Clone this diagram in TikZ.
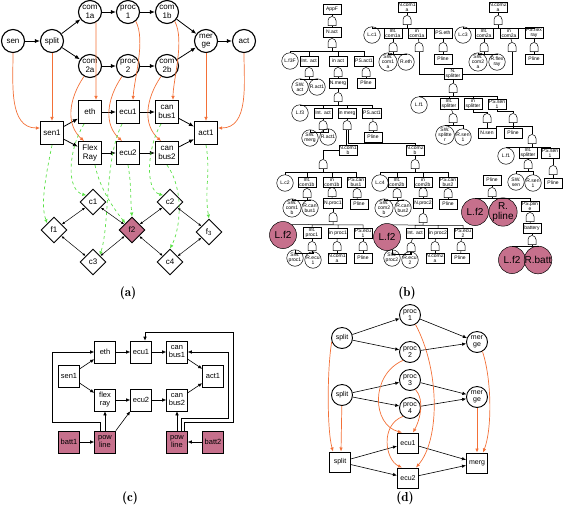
\documentclass[tikz,border=0pt]{standalone}
\usepackage{fontspec}
\usetikzlibrary{arrows.meta,shapes.geometric,shapes.misc}
\newfontfamily\labelfont{Liberation Sans}
\definecolor{mapcol}{RGB}{243,112,55}
\definecolor{loccol}{RGB}{90,225,70}
\definecolor{failcol}{RGB}{198,112,140}
\tikzset{
  acirc/.style={draw,shape=circle,line width=1.1pt,minimum size=23pt,inner sep=0pt,align=center,font=\labelfont\fontsize{8}{8.5}\selectfont},
  abox/.style={draw,shape=rectangle,line width=1.1pt,minimum width=23pt,minimum height=23pt,inner sep=0pt,align=center,font=\labelfont\fontsize{8}{8.5}\selectfont},
  adiam/.style={draw,shape=diamond,line width=0.9pt,minimum size=26pt,inner sep=0pt,font=\labelfont\fontsize{8}{8.5}\selectfont},
  flow/.style={-{Latex[length=5pt,width=4pt]},line width=0.8pt},
  mapto/.style={mapcol,line width=0.7pt,-{Latex[length=4pt,width=3.5pt]}},
  locto/.style={loccol,dashed,line width=0.7pt,-{Latex[length=4pt,width=3.5pt]}},
  link/.style={{Latex[length=3pt,width=2.5pt]}-{Latex[length=3pt,width=2.5pt]},line width=0.5pt},
  cbox/.style={draw,line width=0.6pt,minimum width=21pt,minimum height=22pt,inner sep=0pt,align=center,font=\labelfont\fontsize{7.5}{8}\selectfont},
  cpow/.style={cbox,fill=failcol},
  cflow/.style={-{Latex[length=4pt,width=3.5pt]},line width=0.6pt},
  dcirc/.style={draw,shape=circle,line width=0.9pt,minimum size=21pt,inner sep=0pt,align=center,font=\labelfont\fontsize{7}{7.2}\selectfont},
  dbox/.style={draw,line width=1pt,minimum width=21pt,minimum height=20pt,inner sep=0pt,font=\labelfont\fontsize{7}{7.2}\selectfont},
  ftbox/.style={draw,line width=0.5pt,minimum width=18pt,minimum height=10pt,inner sep=0.6pt,align=center,font=\labelfont\fontsize{5}{5}\selectfont},
  ftev/.style={draw,shape=circle,line width=0.5pt,minimum size=16.5pt,inner sep=0pt,align=center,font=\labelfont\fontsize{5}{5}\selectfont},
  ftfail/.style={draw,shape=circle,fill=failcol,line width=0.5pt,minimum size=27pt,inner sep=0pt,align=center,font=\labelfont\fontsize{10}{10}\selectfont},
  ftgate/.style={draw,shape=rounded rectangle,rounded rectangle west arc=none,rotate=90,minimum width=9pt,minimum height=8pt,inner sep=0pt,line width=0.5pt},
  ftline/.style={line width=0.5pt},
  panellabel/.style={font=\fontseries{b}\fontsize{13}{14}\selectfont}
}
\begin{document}
\begin{tikzpicture}[x=1pt,y=-1pt]
\useasboundingbox (0,0) rectangle (568,515);
\node at (13,41) [acirc](sen){sen};
\node at (52,41) [acirc](split){split};
\node at (90,12) [acirc](com1a){com\\1a};
\node at (128,12) [acirc](proc1){proc\\1};
\node at (167,12) [acirc](com1b){com\\1b};
\node at (206,41) [acirc](merge){mer\\ge};
\node at (244,41) [acirc](act){act};
\node at (90,66) [acirc](com2a){com\\2a};
\node at (128,66) [acirc](proc2){proc\\2};
\node at (167,66) [acirc](com2b){com\\2b};
\node at (90,112) [abox](eth){eth};
\node at (128,112) [abox](ecu1){ecu1};
\node at (167,112) [abox](canbus1){can\\bus1};
\node at (52,133) [abox](sen1){sen1};
\node at (206,133) [abox](act1){act1};
\node at (90,153) [abox](flexray){Flex\\Ray};
\node at (128,153) [abox](ecu2){ecu2};
\node at (167,153) [abox](canbus2){can\\bus2};
\node at (93,202) [adiam](c1){c1};
\node at (54,230) [adiam](f1){f1};
\node at (132,230) [adiam,fill=failcol](f2){f2};
\node at (93,262) [adiam](c3){c3};
\node at (170,202) [adiam](c2){c2};
\node at (209,232) [adiam](f3){f\textsubscript{3}};
\node at (170,262) [adiam](c4){c4};
\draw[flow] (sen) -- (split);
\draw[flow] (split) -- (com1a);
\draw[flow] (split) -- (com2a);
\draw[flow] (com1a) -- (proc1);
\draw[flow] (proc1) -- (com1b);
\draw[flow] (com1b) -- (merge);
\draw[flow] (com2a) -- (proc2);
\draw[flow] (proc2) -- (com2b);
\draw[flow] (com2b) -- (merge);
\draw[flow] (merge) -- (act);
\draw[flow] (sen1) -- (eth);
\draw[flow] (sen1) -- (flexray);
\draw[flow] (eth) -- (ecu1);
\draw[flow] (ecu1) -- (canbus1);
\draw[flow] (canbus1) -- (act1);
\draw[flow] (flexray) -- (ecu2);
\draw[flow] (ecu2) -- (canbus2);
\draw[flow] (canbus2) -- (act1);
\draw[mapto] (sen.south) to[out=-90,in=180] ([yshift=5pt]sen1.west);
\draw[mapto] (split) -- (sen1);
\draw[mapto] (com1a.-60) to[out=-90,in=90] ([xshift=6pt]eth.north);
\draw[mapto] (proc1.-50) .. controls (146,40) and (134,80) .. ([xshift=5pt]ecu1.north);
\draw[mapto] (com1b.-50) .. controls (185,40) and (173,80) .. ([xshift=6pt]canbus1.north);
\draw[mapto] (merge) -- (act1);
\draw[mapto] (act.south) to[out=-90,in=0] ([yshift=5pt]act1.east);
\draw[mapto] (com2a.-120) .. controls (68,100) and (66,125) .. ([xshift=-6pt]flexray.north);
\draw[mapto] (proc2.-120) .. controls (106,100) and (104,125) .. ([xshift=-6pt]ecu2.north);
\draw[mapto] (com2b.-120) .. controls (145,100) and (143,125) .. ([xshift=-6pt]canbus2.north);
\draw[locto] (sen1.south) .. controls (46,175) and (40,205) .. (f1.north west);
\draw[locto] ([xshift=-6pt]eth.south) .. controls (68,150) and (66,190) .. (c1.north west);
\draw[locto] ([xshift=-6pt]ecu1.south) .. controls (104,160) and (110,225) .. (c3.north east);
\draw[locto] ([xshift=5pt]flexray.south) .. controls (100,190) and (115,210) .. (f2.north west);
\draw[locto] (ecu2.south) to[out=-80,in=95] (f2.north);
\draw[locto] ([xshift=-6pt]canbus1.south) .. controls (148,145) and (144,190) .. (c2.north west);
\draw[locto] (canbus2.south) .. controls (185,190) and (180,230) .. (c4.north);
\draw[locto] (act1.south) to[out=-80,in=100] (f3.north);
\draw[link] (f1) -- (c1);
\draw[link] (f1) -- (c3);
\draw[link] (c1) -- (f2);
\draw[link] (c3) -- (f2);
\draw[link] (f2) -- (c2);
\draw[link] (f2) -- (c4);
\draw[link] (c2) -- (f3);
\draw[link] (c4) -- (f3);
\node at (128,293) [panellabel](capa){(a)};
\node at (332,9) [ftbox](appf){AppF};
\node at (332,21) [ftgate](gappf){};
\node at (332,32) [ftbox](nact){N.act};
\node at (332,43) [ftgate](gnact){};
\node at (290,61) [ftev](lf3f){L.f3F};
\node at (309,61) [ftbox](intact){Int. act};
\node at (338,61) [ftbox](inact){in act};
\node at (364,61) [ftbox](psact){PS.act1};
\node at (309,72) [ftgate](gintact){};
\node at (300,87) [ftev](swact){SW.\\act};
\node at (317,87) [ftev](ract){R.act1};
\node at (338,72) [ftgate](ginact){};
\node at (338,83) [ftbox](nmerg){N.merg};
\node at (366,72) [ftgate](gpsact){};
\node at (366,83) [ftbox](plineA){Pline};
\node at (338,97) [ftgate](gnmerg){};
\node at (300,113) [ftev](lf3){L.f3};
\node at (323,113) [ftbox](intactb){Int. act};
\node at (347,113) [ftbox](inmerg){in merg};
\node at (372,113) [ftbox](psactb){PS.act1};
\node at (323,125) [ftgate](gintactb){};
\node at (310,138) [ftev](swmerg){SW.\\merg};
\node at (328,137) [ftev](ractb){R.act1};
\node at (347,125) [ftgate](ginmerg){};
\node at (373,126) [ftgate](gpsactb){};
\node at (373,137) [ftbox](plineB){Pline};
\node at (348,150) [ftbox](ncom1b){N.com1\\b};
\node at (323,164) [ftgate](gncom1b){};
\node at (285,183) [ftev](lc2){L.c2};
\node at (307,182) [ftbox](intcom1b){Int.\\com1b};
\node at (332,182) [ftbox](incom1b){in\\com1b};
\node at (356,182) [ftbox](pscan1){PS.can\\bus1};
\node at (307,193) [ftgate](gintcom1b){};
\node at (292,208) [ftev](swcom1b){SW.\\com1\\b};
\node at (310,208) [ftev](rcan1){R.can\\bus1};
\node at (332,192) [ftgate](gincom1b){};
\node at (333,203) [ftbox](nproc1){N.proc1};
\node at (357,193) [ftgate](gpscan1){};
\node at (359,204) [ftbox](plineC){Pline};
\node at (333,217) [ftgate](gnproc1){};
\node at (283,235) [ftfail](lf2a){L.f2};
\node at (312,233) [ftbox](intproc1){Int.\\proc1};
\node at (338,233) [ftbox](inproc1){in proc1};
\node at (363,233) [ftbox](psecu1){PS.ecu\\1};
\node at (312,246) [ftgate](gintproc1){};
\node at (295,258) [ftev](swproc1){SW.\\proc1};
\node at (313,260) [ftev](recu1){R.ecu\\1};
\node at (337,246) [ftgate](ginproc1){};
\node at (337,258) [ftbox](lkcom1a){N.com1\\a};
\node at (363,246) [ftgate](gpsecu1){};
\node at (363,258) [ftbox](plineD){Pline};
\node at (415,150) [ftbox](ncom2b){N.com2\\b};
\node at (415,164) [ftgate](gncom2b){};
\node at (380,183) [ftev](lc4){L.c4};
\node at (397,182) [ftbox](intcom2b){Int.\\com2b};
\node at (423,182) [ftbox](incom2b){in\\com2b};
\node at (448,182) [ftbox](pscan2){PS.can\\bus2};
\node at (397,193) [ftgate](gintcom2b){};
\node at (384,208) [ftev](swcom2b){SW.\\com2\\b};
\node at (403,208) [ftev](rcan2){R.can\\bus2};
\node at (423,192) [ftgate](gincom2b){};
\node at (423,203) [ftbox](nproc2){N.proc2};
\node at (448,193) [ftgate](gpscan2){};
\node at (448,204) [ftbox](plineE){Pline};
\node at (423,218) [ftgate](gnproc2){};
\node at (387,237) [ftfail](lf2b){L.f2};
\node at (415,233) [ftbox](intactc){Int. act};
\node at (438,233) [ftbox](inproc2){in proc2};
\node at (463,233) [ftbox](psecu2){PS.ecu\\2};
\node at (411,247) [ftgate](gintactc){};
\node at (392,258) [ftev](swproc2){SW.\\proc2};
\node at (410,260) [ftev](recu2){R.ecu\\2};
\node at (435,246) [ftgate](ginproc2){};
\node at (435,258) [ftbox](lkcom2a){N.com2\\a};
\node at (461,246) [ftgate](gpsecu2){};
\node at (460,258) [ftbox](plineF){Pline};
\node at (407,7) [ftbox](ncom1a){N.com1\\a};
\node at (407,20) [ftgate](gncom1a){};
\node at (372,35) [ftev](lc1){L.c1};
\node at (393,33) [ftbox](intcom1a){Int.\\com1a};
\node at (417,33) [ftbox](incom1a){in\\com1a};
\node at (443,33) [ftbox](pseth){PS.eth};
\node at (393,47) [ftgate](gintcom1a){};
\node at (388,62) [ftev](swcom1a){SW.\\com1\\a};
\node at (406,62) [ftev](reth){R.eth};
\node at (419,47) [ftgate](gincom1a){};
\node at (443,47) [ftgate](gpseth){};
\node at (443,59) [ftbox](plineG){Pline};
\node at (498,7) [ftbox](ncom2a){N.com2\\a};
\node at (498,20) [ftgate](gncom2a){};
\node at (463,35) [ftev](lc3){L.c3};
\node at (484,33) [ftbox](intcom2a){Int.\\com2a};
\node at (509,33) [ftbox](incom2a){in\\com2a};
\node at (534,33) [ftbox](psflex){PS.flex\\ray};
\node at (484,47) [ftgate](gintcom2a){};
\node at (478,62) [ftev](swcom2a){SW.\\com2\\a};
\node at (497,62) [ftev](rflex){R.flex\\ray};
\node at (512,47) [ftgate](gincom2a){};
\node at (534,47) [ftgate](gpsflex){};
\node at (534,59) [ftbox](plineH){Pline};
\node at (453,74) [ftbox](nsplit){N.\\splitter};
\node at (453,88) [ftgate](gnsplit){};
\node at (419,105) [ftev](lf1){L.f1};
\node at (449,104) [ftbox](intsplit){Int.\\splitter};
\node at (473,104) [ftbox](insplit){in\\splitter};
\node at (497,104) [ftbox](pssen){PS.sen\\1};
\node at (453,118) [ftgate](gintsplit){};
\node at (445,135) [ftev](swsplit){SW.\\splitte\\r};
\node at (463,137) [ftev](rsen){R.sen\\1};
\node at (487,118) [ftgate](ginsplit){};
\node at (487,133) [ftbox](nsen){N.sen};
\node at (513,118) [ftgate](gpssen){};
\node at (513,133) [ftbox](plineI){Pline};
\node at (532,139) [ftgate](gnsen){};
\node at (506,156) [ftev](lf1b){L.f1};
\node at (528,153) [ftbox](intsplitb){Int.\\splitter};
\node at (550,153) [ftbox](pssenb){PS.sen\\1};
\node at (528,164) [ftgate](gintsplitb){};
\node at (516,182) [ftev](swsen){SW.\\sen};
\node at (533,183) [ftev](rsenb){R.sen\\1};
\node at (553,170) [ftgate](gpssenb){};
\node at (553,183) [ftbox](plineJ){Pline};
\node at (492,180) [ftbox](plineK){Pline};
\node at (492,192) [ftgate](gplineK){};
\node at (475,212) [ftfail](lf2c){L.f2};
\node at (503,212) [ftfail](rpline){R.\\pline};
\node at (530,206) [ftbox](pspline){PS.plin\\e};
\node at (530,217) [ftgate](gpspline){};
\node at (532,228) [ftbox](battery){battery};
\node at (532,240) [ftgate](gbattery){};
\node at (512,260) [ftfail](lf2d){L.f2};
\node at (538,260) [ftfail](rbatt){R.batt};
\draw[ftline] (appf) -- (gappf.east);
\draw[ftline] (gappf.west) -- (nact);
\draw[ftline] (nact) -- (gnact.east);
\draw[ftline] (gnact.west) -- ++(0,3) -| (lf3f) (gnact.west) -- ++(0,3) -| (intact) (gnact.west) -- ++(0,3) -| (inact) (gnact.west) -- ++(0,3) -| (psact);
\draw[ftline] (intact) -- (gintact.east);
\draw[ftline] (gintact.west) -- ++(0,2) -| (swact) (gintact.west) -- ++(0,2) -| (ract);
\draw[ftline] (inact) -- (ginact.east);
\draw[ftline] (ginact.west) -- (nmerg);
\draw[ftline] (psact) -- (gpsact.east);
\draw[ftline] (gpsact.west) -- (plineA);
\draw[ftline] (nmerg) -- (gnmerg.east);
\draw[ftline] (gnmerg.west) -- ++(0,3) -| (lf3) (gnmerg.west) -- ++(0,3) -| (intactb) (gnmerg.west) -- ++(0,3) -| (inmerg) (gnmerg.west) -- ++(0,3) -| (psactb);
\draw[ftline] (intactb) -- (gintactb.east);
\draw[ftline] (gintactb.west) -- ++(0,2) -| (swmerg) (gintactb.west) -- ++(0,2) -| (ractb);
\draw[ftline] (inmerg) -- (ginmerg.east);
\draw[ftline] ([xshift=-1.2pt]ginmerg.west) -- ([xshift=-2.2pt]ncom1b.north);
\draw[ftline] ([xshift=1.2pt]ginmerg.west) -- ++(0,13) -| (ncom2b);
\draw[ftline] (psactb) -- (gpsactb.east);
\draw[ftline] (gpsactb.west) -- (plineB);
\draw[ftline] (ncom1b.west) -| (gncom1b.east);
\draw[ftline] (gncom1b.west) -- ++(0,3) -| (lc2) (gncom1b.west) -- ++(0,3) -| (intcom1b) (gncom1b.west) -- ++(0,3) -| (incom1b) (gncom1b.west) -- ++(0,3) -| (pscan1);
\draw[ftline] (intcom1b) -- (gintcom1b.east);
\draw[ftline] (gintcom1b.west) -- ++(0,2) -| (swcom1b) (gintcom1b.west) -- ++(0,2) -| (rcan1);
\draw[ftline] (incom1b) -- (gincom1b.east);
\draw[ftline] (gincom1b.west) -- (nproc1);
\draw[ftline] (pscan1) -- (gpscan1.east);
\draw[ftline] (gpscan1.west) -- (plineC);
\draw[ftline] (nproc1) -- (gnproc1.east);
\draw[ftline] (gnproc1.west) -- ++(0,3) -- (lf2a.51) (gnproc1.west) -- ++(0,3) -| (intproc1) (gnproc1.west) -- ++(0,3) -| (inproc1) (gnproc1.west) -- ++(0,3) -| (psecu1);
\draw[ftline] (intproc1) -- (gintproc1.east);
\draw[ftline] (gintproc1.west) -- ++(0,2) -| (swproc1) (gintproc1.west) -- ++(0,2) -| (recu1);
\draw[ftline] (inproc1) -- (ginproc1.east);
\draw[ftline] (ginproc1.west) -- (lkcom1a);
\draw[ftline] (psecu1) -- (gpsecu1.east);
\draw[ftline] (gpsecu1.west) -- (plineD);
\draw[ftline] (ncom2b) -- (gncom2b.east);
\draw[ftline] (gncom2b.west) -- ++(0,3) -| (lc4) (gncom2b.west) -- ++(0,3) -| (intcom2b) (gncom2b.west) -- ++(0,3) -| (incom2b) (gncom2b.west) -- ++(0,3) -| (pscan2);
\draw[ftline] (intcom2b) -- (gintcom2b.east);
\draw[ftline] (gintcom2b.west) -- ++(0,2) -| (swcom2b) (gintcom2b.west) -- ++(0,2) -| (rcan2);
\draw[ftline] (incom2b) -- (gincom2b.east);
\draw[ftline] (gincom2b.west) -- (nproc2);
\draw[ftline] (pscan2) -- (gpscan2.east);
\draw[ftline] (gpscan2.west) -- (plineE);
\draw[ftline] (nproc2) -- (gnproc2.east);
\draw[ftline] (gnproc2.west) -- ++(0,2.5) -- (lf2b.63) (gnproc2.west) -- ++(0,2.5) -| (intactc) (gnproc2.west) -- ++(0,2.5) -| (inproc2) (gnproc2.west) -- ++(0,2.5) -| (psecu2);
\draw[ftline] (intactc) -- (gintactc.east);
\draw[ftline] (gintactc.west) -- ++(0,2) -| (swproc2) (gintactc.west) -- ++(0,2) -| (recu2);
\draw[ftline] (inproc2) -- (ginproc2.east);
\draw[ftline] (ginproc2.west) -- (lkcom2a);
\draw[ftline] (psecu2) -- (gpsecu2.east);
\draw[ftline] (gpsecu2.west) -- (plineF);
\draw[ftline] (ncom1a) -- (gncom1a.east);
\draw[ftline] (gncom1a.west) -- ++(0,3) -| (lc1) (gncom1a.west) -- ++(0,3) -| (intcom1a) (gncom1a.west) -- ++(0,3) -| (incom1a) (gncom1a.west) -- ++(0,3) -| (pseth);
\draw[ftline] (intcom1a) -- (gintcom1a.east);
\draw[ftline] (gintcom1a.west) -- ++(0,2) -| (swcom1a) (gintcom1a.west) -- ++(0,2) -| (reth);
\draw[ftline] (incom1a) -- (gincom1a.east);
\draw[ftline] (gincom1a.west) |- (nsplit.west);
\draw[ftline] (pseth) -- (gpseth.east);
\draw[ftline] (gpseth.west) -- (plineG);
\draw[ftline] (ncom2a) -- (gncom2a.east);
\draw[ftline] (gncom2a.west) -- ++(0,3) -| (lc3) (gncom2a.west) -- ++(0,3) -| (intcom2a) (gncom2a.west) -- ++(0,3) -| (incom2a) (gncom2a.west) -- ++(0,3) -| (psflex);
\draw[ftline] (intcom2a) -- (gintcom2a.east);
\draw[ftline] (gintcom2a.west) -- ++(0,2) -| (swcom2a) (gintcom2a.west) -- ++(0,2) -| (rflex);
\draw[ftline] (incom2a) -- (gincom2a.east);
\draw[ftline] (gincom2a.west) |- (nsplit.east);
\draw[ftline] (psflex) -- (gpsflex.east);
\draw[ftline] (gpsflex.west) -- (plineH);
\draw[ftline] (nsplit) -- (gnsplit.east);
\draw[ftline] (gnsplit.west) -- ++(0,3) -| (lf1) (gnsplit.west) -- ++(0,3) -| (intsplit) (gnsplit.west) -- ++(0,3) -| (insplit) (gnsplit.west) -- ++(0,3) -| (pssen);
\draw[ftline] (intsplit) -- (gintsplit.east);
\draw[ftline] (gintsplit.west) -- ++(0,2) -| (swsplit) (gintsplit.west) -- ++(0,2) -| (rsen);
\draw[ftline] (insplit.south) -- ++(0,3) -| (ginsplit.east);
\draw[ftline] (ginsplit.west) -- (nsen);
\draw[ftline] (pssen.south) -- ++(0,1.5) -| (gpssen.east);
\draw[ftline] (gpssen.west) -- (plineI);
\draw[ftline] (nsen.north east) -- ++(0,-2) -| (gnsen.east);
\draw[ftline] (gnsen.west) -- ++(0,3) -| (lf1b) (gnsen.west) -- ++(0,3) -| (intsplitb) (gnsen.west) -- ++(0,3) -| (pssenb);
\draw[ftline] (intsplitb) -- (gintsplitb.east);
\draw[ftline] (gintsplitb.west) -- ++(0,2) -| (swsen) (gintsplitb.west) -- ++(0,2) -| (rsenb);
\draw[ftline] (pssenb.south) -| (gpssenb.east);
\draw[ftline] (gpssenb.west) -- (plineJ);
\draw[ftline] (plineK) -- (gplineK.east);
\draw[ftline] (gplineK.west) -- ++(0,1.5) -| (lf2c) (gplineK.west) -- ++(0,1.5) -| (rpline) (gplineK.west) -- ++(0,1.5) -| (pspline);
\draw[ftline] (pspline) -- (gpspline.east);
\draw[ftline] (gpspline.west) -- (battery);
\draw[ftline] (battery) -- (gbattery.east);
\draw[ftline] (gbattery.west) -- ++(0,1.5) -| (lf2d) (gbattery.west) -- ++(0,1.5) -| (rbatt);
\node at (407,293) [panellabel](capb){(b)};
\node at (105,352) [cbox](ceth){eth};
\node at (141,352) [cbox](cecu1){ecu1};
\node at (177,352) [cbox](ccan1){can\\bus1};
\node at (69,376) [cbox](csen1){sen1};
\node at (213,376) [cbox](cact1){act1};
\node at (105,400) [cbox](cflex){flex\\ray};
\node at (141,400) [cbox](cecu2){ecu2};
\node at (177,400) [cbox](ccan2){can\\bus2};
\node at (69,442) [cpow](cbatt1){batt1};
\node at (105,442) [cpow](cpow1){pow\\line};
\node at (177,442) [cpow](cpow2){pow\\line};
\node at (213,442) [cpow](cbatt2){batt2};
\draw[cflow] (csen1) -- (ceth);
\draw[cflow] (csen1) -- (cflex);
\draw[cflow] (ceth) -- (cecu1);
\draw[cflow] (cecu1) -- (ccan1);
\draw[cflow] (ccan1) -- (cact1);
\draw[cflow] (cflex) -- (cecu2);
\draw[cflow] (cecu2) -- (ccan2);
\draw[cflow] (ccan2) -- (cact1);
\draw[cflow] (cbatt1) -- (cpow1);
\draw[cflow] (cbatt2) -- (cpow2);
\draw[cflow] (cpow1) -- (cflex);
\draw[cflow] (cpow1.north east) -- (cecu2.south west);
\draw[cflow] ([xshift=-5pt]cpow1.north) |- (52,422) |- (ceth.west);
\draw[cflow] (cpow2) -- (ccan2);
\draw[cflow] ([xshift=4pt]cpow2.north) |- (228,418) |- (ccan1.east);
\draw[cflow] ([xshift=7.5pt]cpow2.north) |- (233,422) |- (145,332) -- ([xshift=4pt]cecu1.north);
\node at (130,498) [panellabel](capc){(c)};
\node at (410,315) [dcirc](dproc1){proc\\1};
\node at (342,338) [dcirc](dsplit1){split};
\node at (410,352) [dcirc](dproc2){proc\\2};
\node at (477,342) [dcirc](dmerge1){mer\\ge};
\node at (410,380) [dcirc](dproc3){proc\\3};
\node at (342,395) [dcirc](dsplit2){split};
\node at (410,408) [dcirc](dproc4){proc\\4};
\node at (477,397) [dcirc](dmerge2){mer\\ge};
\node at (408,443) [dbox](decu1){ecu1};
\node at (340,462) [dbox](dsplit){split};
\node at (477,463) [dbox](dmerg){merg};
\node at (408,478) [dbox](decu2){ecu2};
\draw[cflow] (dsplit1) -- (dproc1);
\draw[cflow] (dsplit1) -- (dproc2);
\draw[cflow] (dproc1) -- (dmerge1);
\draw[cflow] (dproc2) -- (dmerge1);
\draw[cflow] (dsplit2) -- (dproc3);
\draw[cflow] (dsplit2) -- (dproc4);
\draw[cflow] (dproc3) -- (dmerge2);
\draw[cflow] (dproc4) -- (dmerge2);
\draw[cflow] (dsplit) -- (decu1);
\draw[cflow] (dsplit) -- (decu2);
\draw[cflow] (decu1) -- (dmerg);
\draw[cflow] (decu2) -- (dmerg);
\draw[mapto] (dsplit1.200) .. controls (327,370) and (327,430) .. ([xshift=-7pt]dsplit.north);
\draw[mapto] (dsplit2) -- ([xshift=1pt]dsplit.north);
\draw[mapto] (dproc1.-60) .. controls (440,370) and (440,440) .. ([xshift=8pt]decu2.north);
\draw[mapto] (dproc2.-130) .. controls (370,375) and (372,425) .. ([xshift=-6pt]decu1.north);
\draw[mapto] (dproc3.-60) .. controls (425,400) and (420,420) .. ([xshift=5pt]decu1.north);
\draw[mapto] (dproc4.-130) .. controls (380,425) and (385,460) .. ([xshift=-6pt]decu2.north);
\draw[mapto] (dmerge1.-60) .. controls (492,380) and (492,430) .. ([xshift=6pt]dmerg.north);
\draw[mapto] (dmerge2) -- (dmerg);
\node at (405,498) [panellabel](capd){(d)};
\end{tikzpicture}
\end{document}
